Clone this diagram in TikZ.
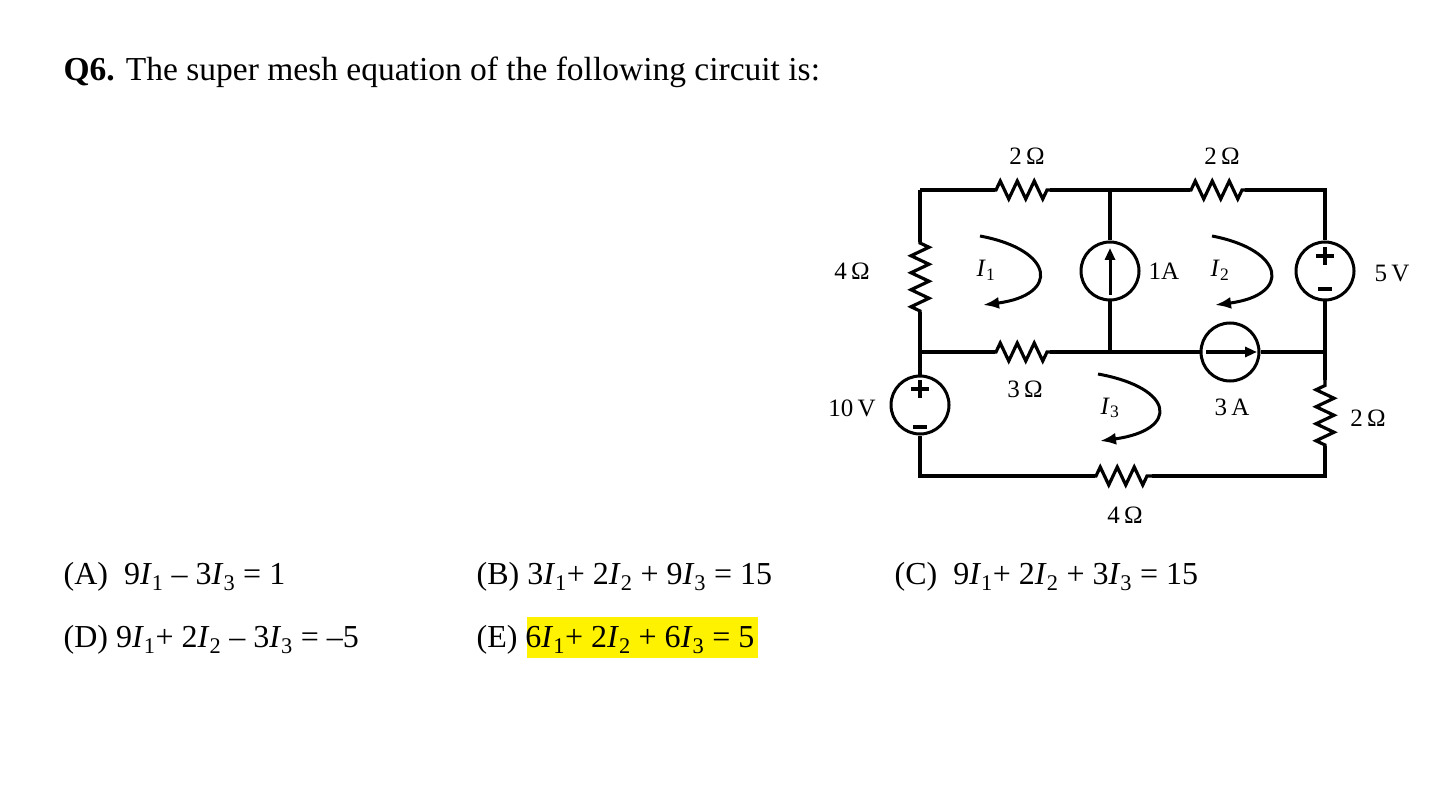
\documentclass[tikz,border=0pt]{standalone}
\usepackage{fontspec}
\setmainfont{Liberation Serif}
\usetikzlibrary{decorations.pathmorphing,arrows.meta}
\begin{document}
\begin{tikzpicture}[x=1pt,y=-1pt,line width=3.2pt,
  res/.style={decorate,decoration={zigzag,segment length=17,amplitude=9,pre length=1,post length=1}},
  src/.style={circle,draw,line width=3pt,minimum size=58,inner sep=0},
  lbl/.style={font=\fontsize{25}{27}\selectfont,inner sep=0},
  txt/.style={font=\fontsize{33.5}{36}\selectfont,anchor=west,inner sep=0},
  ans/.style={font=\fontsize{32}{35}\selectfont,anchor=west,inner sep=0},
  mesh/.style={line width=3pt,-{Latex[length=16,width=12]}}]
\useasboundingbox (0,0) rectangle (1454,786);
\fill[white] (0,0) rectangle (1454,786);
\node[txt] (title) at (62,72) {\textbf{Q6.} The super mesh equation of the following circuit is:};
% coordinates
\coordinate (TL) at (920,190); \coordinate (TM) at (1110,190); \coordinate (TR) at (1325,190);
\coordinate (ML) at (920,352); \coordinate (MM) at (1110,352); \coordinate (MR) at (1325,352);
\coordinate (BL) at (920,476); \coordinate (BR) at (1325,476);
\node[src] (s1) at (1110,271) {};
\node[src] (s5) at (1325,271) {};
\node[src] (s10) at (920,405) {};
\node[src] (s3) at (1230,352) {};
% top
\draw (TL) -- (995,190); \draw[res] (995,190) -- (1050,190); \draw (1050,190) -- (TM) -- (1190,190);
\draw[res] (1190,190) -- (1245,190); \draw (1245,190) -- (TR) -- (s5.north);
% left
\draw (TL) -- (920,242); \draw[res] (920,242) -- (920,312); \draw (920,312) -- (ML) -- (s10.north);
\draw (s10.south) -- (BL) -- (1095,476); \draw[res] (1095,476) -- (1152,476); \draw (1152,476) -- (BR) -- (1325,446);
\draw[res] (1325,446) -- (1325,380); \draw (1325,380) -- (MR) -- (s5.south);
% middle
\draw (ML) -- (995,352); \draw[res] (995,352) -- (1050,352); \draw (1050,352) -- (MM) -- (s3.west);
\draw (s3.east) -- (MR);
\draw (MM) -- (s1.south); \draw (s1.north) -- (TM);
% source symbols
\draw[line width=3pt,-{Triangle[length=12,width=10]}] (1110,295) -- (1110,248);
\draw[line width=3pt,-{Triangle[length=12,width=10]}] (1206,352) -- (1257,352);
\draw[line width=3.4pt] (1325,247) -- (1325,265) (1316,256) -- (1334,256) (1318,289) -- (1332,289);
\draw[line width=3.4pt] (920,380) -- (920,398) (911,389) -- (929,389) (913,427) -- (927,427);
% mesh arrows
\draw[mesh] (980,236) .. controls (1055,250) and (1060,295) .. (983,305);
\draw[mesh] (1212,236) .. controls (1285,250) and (1292,295) .. (1215,305);
\draw[mesh] (1098,374) .. controls (1175,388) and (1180,430) .. (1100,441);
% labels
\node[lbl] (r1) at (1027,156) {2\,Ω};
\node[lbl] (r2) at (1222,156) {2\,Ω};
\node[lbl] (r3) at (852,271) {4\,Ω};
\node[lbl] (r4) at (1025,389) {3\,Ω};
\node[lbl] (r5) at (1125,515) {4\,Ω};
\node[lbl] (r6) at (1368,418) {2\,Ω};
\node[lbl] (v5) at (1392,274) {5\,V};
\node[lbl] (v10) at (852,408) {10\,V};
\node[lbl] (a1) at (1164,271) {1A};
\node[lbl] (a3) at (1232,407) {3\,A};
\node[lbl] (i1) at (986,270) {\textit{I}\textsubscript{1}};
\node[lbl] (i2) at (1220,270) {\textit{I}\textsubscript{2}};
\node[lbl] (i3) at (1110,408) {\textit{I}\textsubscript{3}};
% answers
\fill[yellow] (527,617) rectangle (758,658);
\node[ans] (A) at (62,577) {(A)\ \ 9\textit{I}\textsubscript{1} – 3\textit{I}\textsubscript{3} = 1};
\node[ans] (B) at (475,577) {(B) 3\textit{I}\textsubscript{1}+ 2\textit{I}\textsubscript{2} + 9\textit{I}\textsubscript{3} = 15};
\node[ans] (C) at (893,577) {(C)\ \ 9\textit{I}\textsubscript{1}+ 2\textit{I}\textsubscript{2} + 3\textit{I}\textsubscript{3} = 15};
\node[ans] (D) at (62,640) {(D) 9\textit{I}\textsubscript{1}+ 2\textit{I}\textsubscript{2} – 3\textit{I}\textsubscript{3} = –5};
\node[ans] (E) at (475,640) {(E) 6\textit{I}\textsubscript{1}+ 2\textit{I}\textsubscript{2} + 6\textit{I}\textsubscript{3} = 5};
\end{tikzpicture}
\end{document}
